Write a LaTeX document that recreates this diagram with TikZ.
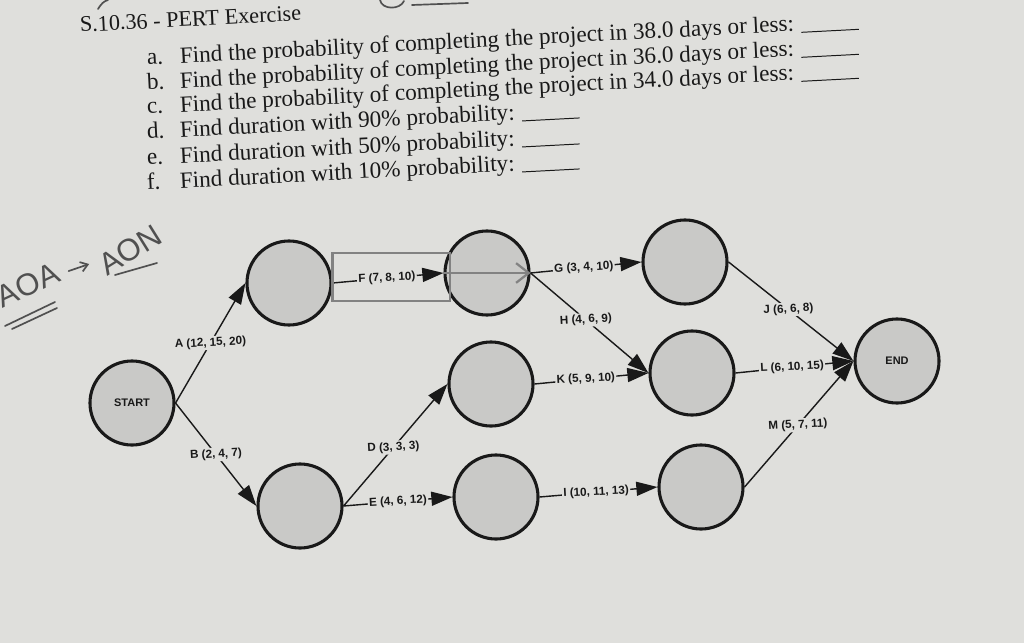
\documentclass[tikz,border=0pt]{standalone}
\usepackage{fontspec}
\setmainfont{Liberation Serif}
\newfontfamily\lblfont{Liberation Sans}
\usetikzlibrary{arrows.meta}
\definecolor{paper}{RGB}{223,223,220}
\definecolor{evfill}{RGB}{201,201,199}
\definecolor{ink}{RGB}{25,25,25}
\definecolor{pencilc}{RGB}{130,130,130}
\definecolor{hand}{RGB}{80,80,80}
\tikzset{
 ev/.style={circle, draw=ink, line width=2.2pt, fill=evfill, minimum size=2.1cm, inner sep=0pt,
   font=\lblfont\bfseries\fontsize{7.8}{9}\selectfont, text=ink},
 act/.style={draw=ink, line width=1pt, -{Triangle[length=15pt,width=10pt]}},
 lbl/.style={fill=paper, inner sep=1pt, font=\lblfont\bfseries\fontsize{8.3}{10}\selectfont, text=ink, rotate=3},
 qline/.style={anchor=base west, rotate=3, inner sep=0pt, font=\fontsize{16.5}{19}\selectfont, text=ink},
 handtxt/.style={text=hand, inner sep=1pt, font=\lblfont\fontsize{22}{24}\selectfont},
 handline/.style={draw=hand, line width=1.2pt, line cap=round},
 pencilline/.style={draw=pencilc, line width=1.6pt, line cap=round},
}
\newcommand{\blankline}{\hspace{5pt}\rule[-1.5pt]{41pt}{0.7pt}}
\newcommand{\qlab}[1]{\makebox[23.5pt][l]{#1}}
\begin{document}
\begin{tikzpicture}[x=0.025cm,y=-0.025cm]
\fill[paper] (0,0) rectangle (1024,643);
\useasboundingbox (0,0) rectangle (1024,643);

% pencil marks at the top edge
\draw[handline] (98,9) .. controls (101,4) and (104,1) .. (108,0);
\draw[handline] (380,0) .. controls (382,10) and (400,10) .. (404,1);
\draw[handline] (412,5) -- (468,3);

% title and questions
\node[qline, font=\fontsize{15.8}{18}\selectfont] (title) at (80,32) {S.10.36 - PERT Exercise};
\node[qline] (qa) at (147,65) {\qlab{a.}Find the probability of completing the project in 38.0 days or less:\blankline};
\node[qline] (qb) at (147,90) {\qlab{b.}Find the probability of completing the project in 36.0 days or less:\blankline};
\node[qline] (qc) at (147,114) {\qlab{c.}Find the probability of completing the project in 34.0 days or less:\blankline};
\node[qline] (qd) at (147,139) {\qlab{d.}Find duration with 90\% probability:\blankline};
\node[qline] (qe) at (147,165) {\qlab{e.}Find duration with 50\% probability:\blankline};
\node[qline] (qf) at (147,190) {\qlab{f.}Find duration with 10\% probability:\blankline};

% handwriting
\node[handtxt, rotate=25] (aoa) at (28,285) {AOA};
\node[handtxt, rotate=32] (aon) at (130,250) {AON};
\draw[handline, -{Straight Barb[length=5pt,width=7pt]}, shorten <=6pt, shorten >=5pt] (aoa) -- (aon);
\draw[handline] (5,326) -- (55,302);
\draw[handline] (12,329) -- (57,308);
\draw[handline] (115,275) -- (157,263);

% events
\node[ev] (S)  at (132,403) {START};
\node[ev] (n1) at (289,283) {};
\node[ev] (n2) at (487,273) {};
\node[ev] (n3) at (685,262) {};
\node[ev] (n4) at (491,384) {};
\node[ev] (n5) at (692,373) {};
\node[ev] (E)  at (897,361) {END};
\node[ev] (n6) at (300,506) {};
\node[ev] (n7) at (496,497) {};
\node[ev] (n8) at (701,487) {};

% activities
\draw[act] (S.east)  -- node[lbl, pos=0.5]  {A (12, 15, 20)} (n1.west);
\draw[act] (S.east)  -- node[lbl, pos=0.5]  {B (2, 4, 7)} (n6.west);
\draw[act] (n6.east) -- node[lbl, pos=0.48] {D (3, 3, 3)} (n4.west);
\draw[act] (n6.east) -- node[lbl, pos=0.5]  {E (4, 6, 12)} (n7.west);
\draw[act] (n1.east) -- node[lbl, pos=0.49] {F (7, 8, 10)} (n2.west);
\draw[act] (n2.east) -- node[lbl, pos=0.48] {G (3, 4, 10)} (n3.west);
\draw[act] (n2.east) -- node[lbl, pos=0.47] {H (4, 6, 9)} (n5.west);
\draw[act] (n4.east) -- node[lbl, pos=0.45] {K (5, 9, 10)} (n5.west);
\draw[act] (n7.east) -- node[lbl, pos=0.48] {I (10, 11, 13)} (n8.west);
\draw[act] (n3.east) -- node[lbl, pos=0.48] {J (6, 6, 8)} (E.west);
\draw[act] (n5.east) -- node[lbl, pos=0.48] {L (6, 10, 15)} (E.west);
\draw[act] (n8.east) -- node[lbl, pos=0.49] {M (5, 7, 11)} (E.west);

% pencil highlight of F and arrow through its end event
\draw[pencilline] (n1.east |- 0,253) rectangle (450,301);
\draw[pencilline, -{Straight Barb[length=9pt,width=14pt]}] (n2.west) -- (n2.east);
\end{tikzpicture}
\end{document}
